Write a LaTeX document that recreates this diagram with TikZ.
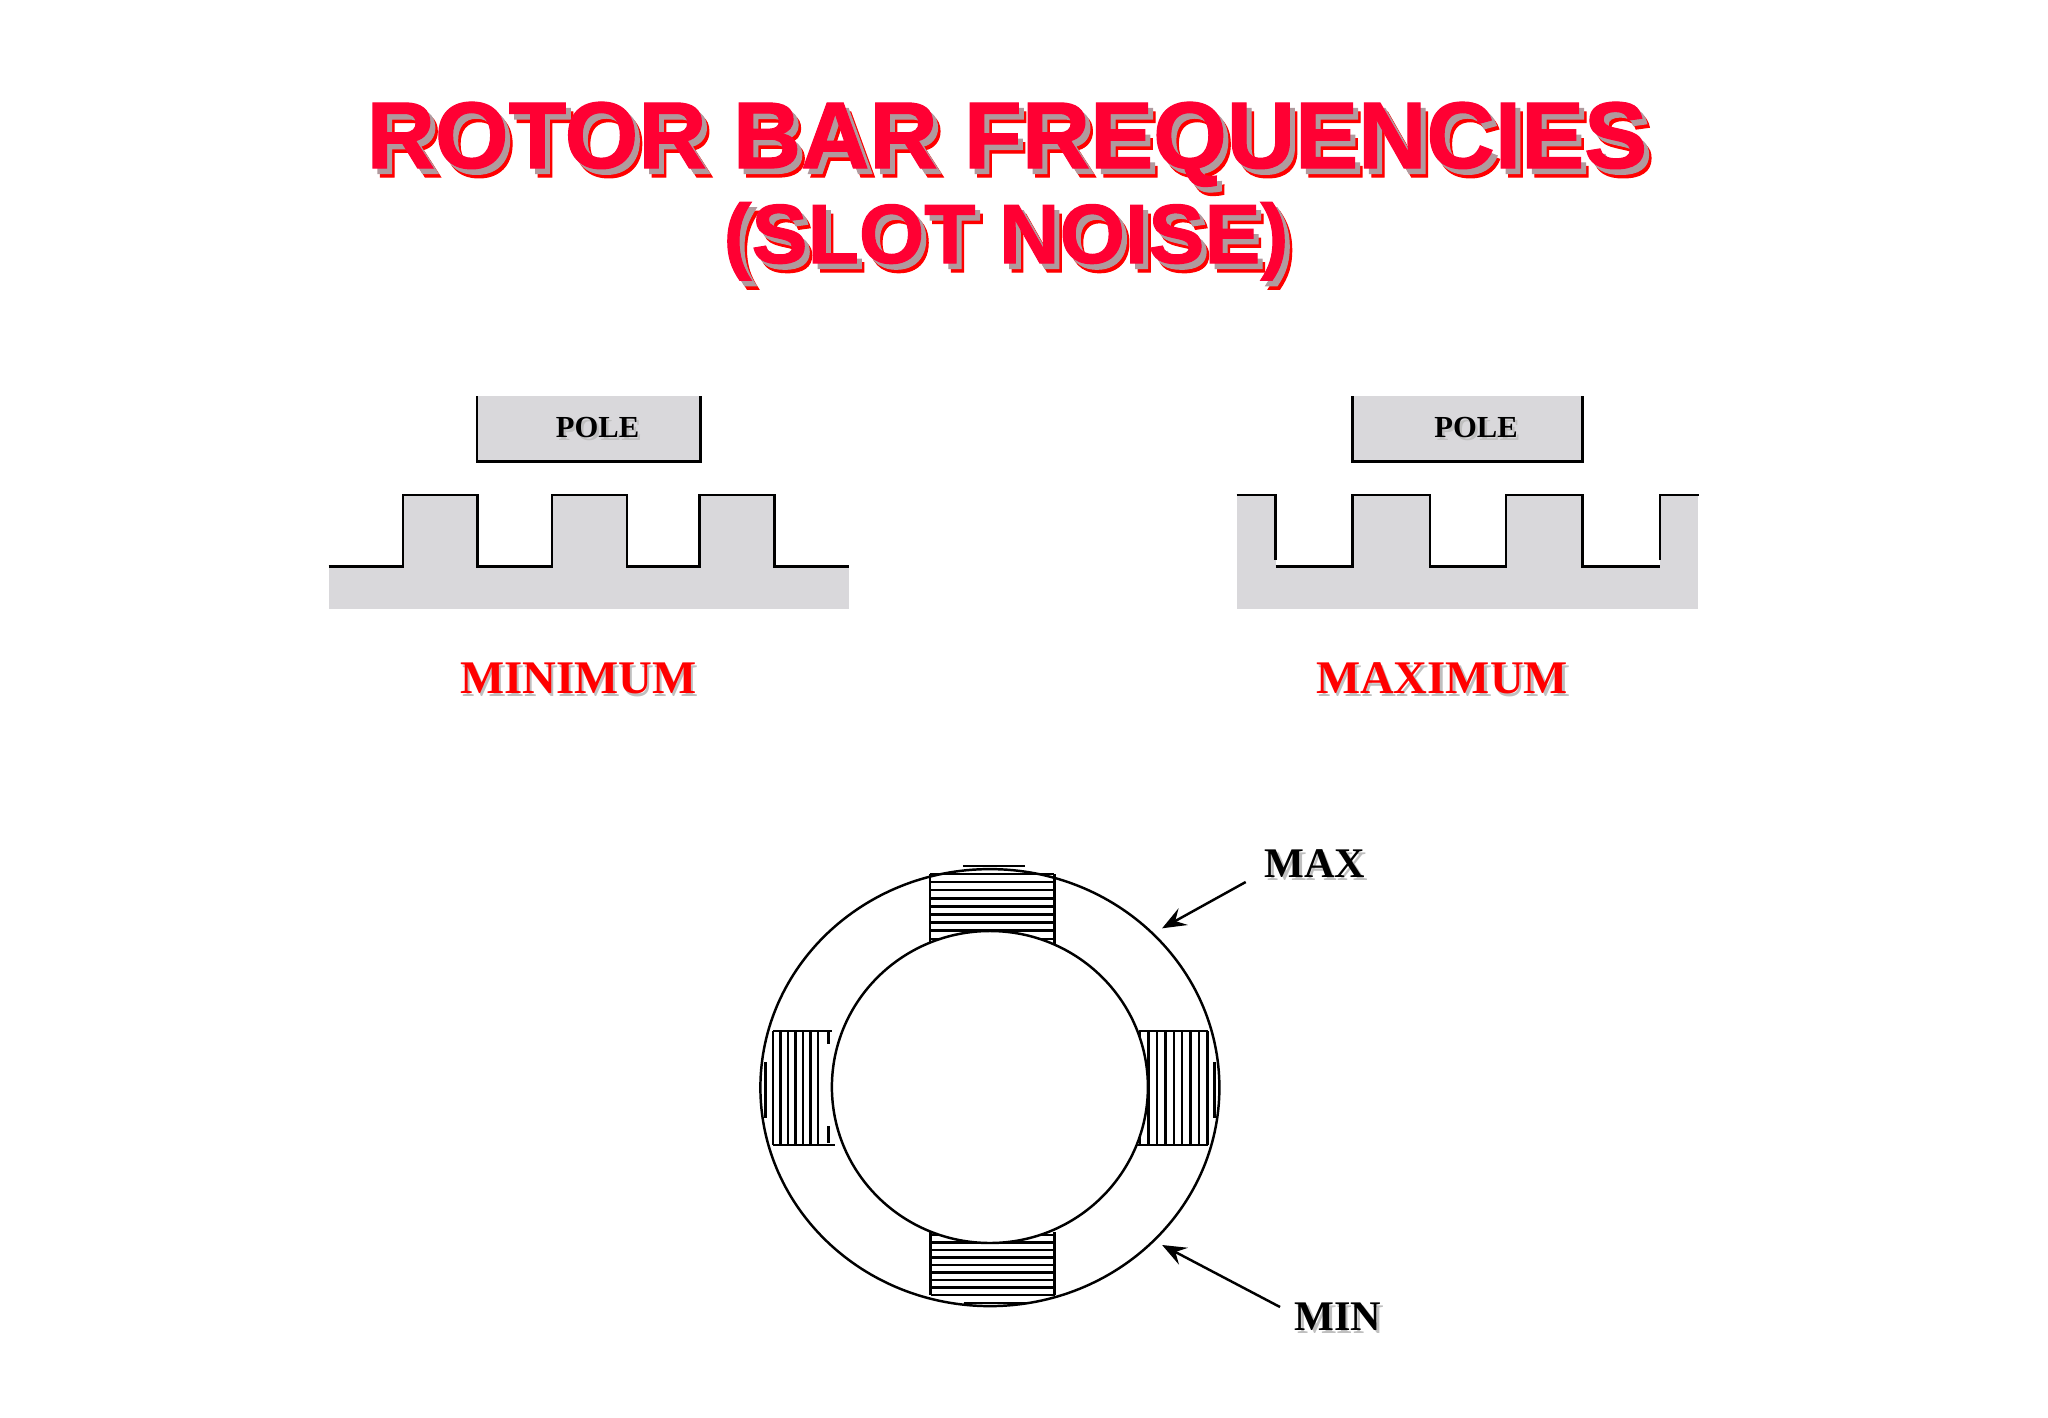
\documentclass[tikz,border=0pt]{standalone}
\usepackage{fontspec}
\setmainfont{Liberation Serif}
\newfontfamily\titlefont[BoldFeatures={FakeBold=1.2}]{Liberation Sans}
\usetikzlibrary{arrows.meta}

\definecolor{steelgray}{HTML}{D9D8DB}
\definecolor{titlered}{HTML}{FF0033}
\definecolor{titleshade}{HTML}{B09A9E}

% Text with a hard shadow behind it
\newcommand{\softshadow}[1]{\makebox[0pt][l]{\kern.025cm\raisebox{-.03cm}{\color{black!25}#1}}#1}
\newcommand{\titleshadow}[1]{\makebox[0pt][l]{\kern.075cm\raisebox{-.09cm}{\color{red}#1}}\makebox[0pt][l]{\kern.05cm\raisebox{-.055cm}{\color{titleshade}#1}}#1}

\tikzset{
    outline/.style={black, line width=0.7pt},
    pointer/.style={black, line width=0.7pt, -{Stealth[length=0.24cm, width=0.19cm, inset=0.09cm]}},
    titletext/.style={anchor=base, inner sep=0pt, text=titlered, font=\titlefont\bfseries},
    redlabel/.style={anchor=base, inner sep=0pt, text=red, font=\bfseries\fontsize{13.3}{16}\selectfont},
    blacklabel/.style={anchor=base, inner sep=0pt, font=\bfseries\fontsize{12}{14}\selectfont},
    polelabel/.style={anchor=base, inner sep=0pt, font=\bfseries\fontsize{8.7}{10}\selectfont},
}

\begin{document}
\begin{tikzpicture}[x=0.01cm, y=-0.01cm]
    \useasboundingbox (0,0) rectangle (2048,1418);

    % Title
    \node[titletext] (titleone) at (1007,168) {\fontsize{26.9}{30}\selectfont\titleshadow{ROTOR BAR FREQUENCIES}};
    \node[titletext] (titletwo) at (1006,263) {\fontsize{23.9}{28}\selectfont\titleshadow{(SLOT NOISE)}};

    % Left: pole over tooth
    \fill[steelgray] (477.1,396) rectangle (700.4,461.7);
    \draw[outline] (477.1,396) -- (477.1,461.7) -- (700.4,461.7) -- (700.4,396);
    \node[polelabel] (poleleft) at (597.5,437) {\softshadow{POLE}};

    \fill[steelgray] (328.6,566.7) rectangle (848.6,609);
    \foreach \xa/\xb in {403.2/477.5, 551.8/626.8, 699.6/774.6} {
        \fill[steelgray] (\xa,495) rectangle (\xb,566.7);
    }
    \draw[outline] (328.6,566.7) -- (403.2,566.7) -- (403.2,495) -- (477.5,495) -- (477.5,566.7)
        -- (551.8,566.7) -- (551.8,495) -- (626.8,495) -- (626.8,566.7)
        -- (699.6,566.7) -- (699.6,495) -- (774.6,495) -- (774.6,566.7) -- (848.6,566.7);
    \node[redlabel] (minimum) at (578.2,693) {\softshadow{MINIMUM}};

    % Right: pole over slot
    \fill[steelgray] (1352.3,396) rectangle (1582.7,461.7);
    \draw[outline] (1352.3,396) -- (1352.3,461.7) -- (1582.7,461.7) -- (1582.7,396);
    \node[polelabel] (poleright) at (1476,437) {\softshadow{POLE}};

    \fill[steelgray] (1236.7,495) rectangle (1698.3,609);
    \foreach \xa/\xb in {1275.7/1352.7, 1430/1506, 1582.7/1660} {
        \fill[white] (\xa,495) rectangle (\xb,566.7);
    }
    \draw[outline] (1236.7,495) -- (1275.7,495) -- (1275.7,560);
    \draw[outline] (1275.7,566.7) -- (1352.7,566.7) -- (1352.7,495) -- (1430,495) -- (1430,566.7)
        -- (1506,566.7) -- (1506,495) -- (1582.7,495) -- (1582.7,566.7) -- (1660,566.7);
    \draw[outline] (1660,560) -- (1660,495) -- (1699,495);
    \node[redlabel] (maximum) at (1442,693) {\softshadow{MAXIMUM}};

    % Ring
    \draw[outline] (989.9,1087.6) ellipse [x radius=229.5, y radius=218.5];

    % Slots, top and bottom
    \foreach \i in {0,...,8} {
        \draw[outline] (930,{874+8.1*\i}) -- (1054.3,{874+8.1*\i});
        \draw[outline] (930.7,{1295-7.5*\i}) -- (1054.6,{1295-7.5*\i});
    }
    \draw[outline] (930,874) -- (930,945);
    \draw[outline] (1054.3,874) -- (1054.3,945);
    \draw[outline] (930.7,1295) -- (930.7,1232);
    \draw[outline] (1054.6,1295) -- (1054.6,1232);

    % Slots, left and right
    \foreach \i in {0,...,6} {
        \draw[outline] ({772.9+7.5*\i},1031) -- ({772.9+7.5*\i},1145);
    }
    \foreach \i in {0,...,8} {
        \draw[outline] ({1207.5-8.43*\i},1031) -- ({1207.5-8.43*\i},1145);
    }
    \draw[outline] (772.9,1031) -- (831.8,1031);
    \draw[outline] (772.9,1145) -- (835,1145);
    \draw[outline] (828.6,1031) -- (828.6,1044);
    \draw[outline] (828.6,1126) -- (828.6,1143);
    \draw[outline] (1138.6,1031) -- (1207.5,1031);
    \draw[outline] (1134.3,1145) -- (1207.5,1145);

    % Rotor
    \draw[outline, fill=white] (989.9,1087) ellipse [x radius=158, y radius=156];

    % Short bars at the ring
    \draw[outline] (962.9,866) -- (1025.4,866);
    \draw[outline] (963.6,1303) -- (1026,1303);
    \draw[outline] (765.7,1062) -- (765.7,1118);
    \draw[outline] (1214.6,1062) -- (1214.6,1118);

    % Arrows
    \node[blacklabel] (maxlabel) at (1315,877) {\softshadow{MAX}};
    \node[blacklabel] (minlabel) at (1338,1330) {\softshadow{MIN}};
    \coordinate (maxtail) at (1245.7,882);
    \coordinate (maxtip) at (1162.1,928.3);
    \coordinate (mintail) at (1280,1307);
    \coordinate (mintip) at (1162.1,1245);
    \draw[pointer] (maxtail) -- (maxtip);
    \draw[pointer] (mintail) -- (mintip);
\end{tikzpicture}
\end{document}
